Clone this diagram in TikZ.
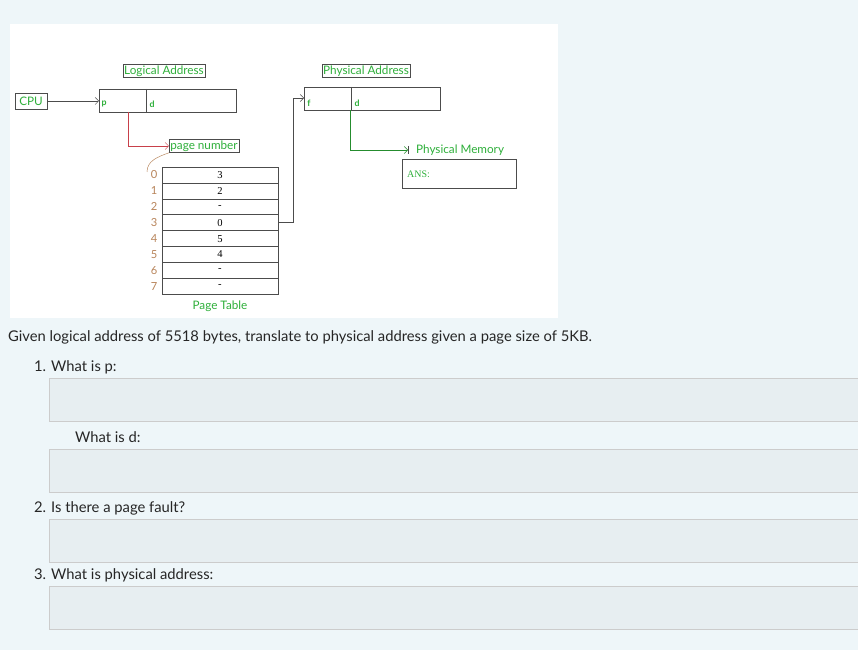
\documentclass[tikz,border=0pt]{standalone}
\usepackage{fontspec}
\setmainfont{Lato}
\newfontfamily\serifnum{Liberation Serif}
\usetikzlibrary{arrows.meta}
\definecolor{pagebg}{HTML}{EEF6F9}
\definecolor{fieldbg}{HTML}{E7EEF1}
\definecolor{labelgreen}{HTML}{2EAF3A}
\definecolor{idxorange}{HTML}{B8845A}
\definecolor{linkred}{HTML}{C8404A}
\tikzset{
  tag/.style={draw=black!70, inner sep=1pt, text=labelgreen, font=\fontsize{10}{11}\selectfont},
  cell/.style={font=\serifnum\fontsize{9}{10}\selectfont},
  field/.style={draw=black!20, fill=fieldbg},
  question/.style={anchor=west, font=\fontsize{12.6}{14}\selectfont, text=black!85},
}
\begin{document}
\begin{tikzpicture}[x=0.03cm,y=-0.03cm]

    % Page and picture area
    \fill[pagebg] (0,0) rectangle (858,650);
    \useasboundingbox (0,0) rectangle (858,650);
    \fill[white] (10,24) rectangle (558,318);

    % CPU and logical address
    \node[tag, minimum width=32*0.03cm, minimum height=16*0.03cm] (cpu) at (31,101) {CPU};
    \draw[black!70] (99,89) rectangle (236,112);
    \draw[black!70] (146,89) -- (146,112);
    \coordinate (la) at (99,101);
    \node[text=labelgreen, font=\bfseries\fontsize{7.5}{8}\selectfont] (p) at (104,104) {p};
    \node[text=labelgreen, font=\bfseries\fontsize{7.5}{8}\selectfont] (d1) at (152,104) {d};
    \node[tag] (laddr) at (164,71) {Logical Address};
    \draw[black!70, -{Straight Barb[length=3pt]}] (cpu) -- (la);

    % Page table
    \node[tag] (pnum) at (204,146) {page number};
    \coordinate (pstart) at (128,112);
    \draw[linkred, -{Straight Barb[length=3pt]}] (pstart) |- (pnum.west);
    \draw[idxorange] (pnum.south west) to[out=200, in=90] (147,172);
    \foreach \v [count=\i from 0] in {3,2,-,0,5,4,-,-} {
        \draw[black!70] (162,{167+\i*15.9}) rectangle (278,{167+(\i+1)*15.9});
        \node[cell] (row\i) at (220,{175+\i*15.9}) {\v};
        \node[text=idxorange, font=\fontsize{9.5}{10}\selectfont] (idx\i) at (154,{175+\i*15.9}) {\i};
    }
    \node[text=labelgreen, font=\fontsize{10}{11}\selectfont] (ptable) at (220,306) {Page Table};

    % Physical address
    \draw[black!70] (304,87) rectangle (440,110);
    \draw[black!70] (351,87) -- (351,110);
    \coordinate (pa) at (304,98);
    \coordinate (rowout) at (278,222);
    \draw[black!70, -{Straight Barb[length=3pt]}] (rowout) -- (293,222) |- (pa);
    \node[text=labelgreen, font=\bfseries\fontsize{7.5}{8}\selectfont] (f) at (309,103) {f};
    \node[text=labelgreen, font=\bfseries\fontsize{7.5}{8}\selectfont] (d2) at (357,103) {d};
    \node[tag] (paddr) at (366,71) {Physical Address};

    % Physical memory
    \coordinate (dstart) at (350,110);
    \coordinate (mem) at (408,150);
    \draw[labelgreen!80!black, -{Straight Barb[length=3pt]}] (dstart) |- (mem);
    \draw[black!70] (408,146) -- (408,154);
    \node[anchor=west, text=labelgreen, font=\fontsize{10}{11}\selectfont] (pmem) at (412,150) {Physical Memory};
    \draw[black!70] (402,159) rectangle (516,188);
    \node[anchor=west, text=labelgreen, font=\serifnum\fontsize{8.5}{9}\selectfont] (ans) at (403,174) {ANS:};

    % Questions
    \node[question] (q0) at (4,337) {Given logical address of 5518 bytes, translate to physical address given a page size of 5KB.};
    \node[question] (q1) at (30,367) {1. What is p:};
    \fill[field] (49,378) rectangle (860,421);
    \node[question] (q1b) at (71,437) {What is d:};
    \fill[field] (49,449) rectangle (860,492);
    \node[question] (q2) at (30,508) {2. Is there a page fault?};
    \fill[field] (49,519) rectangle (860,562);
    \node[question] (q3) at (30,575) {3. What is physical address:};
    \fill[field] (49,586) rectangle (860,629);

\end{tikzpicture}
\end{document}
